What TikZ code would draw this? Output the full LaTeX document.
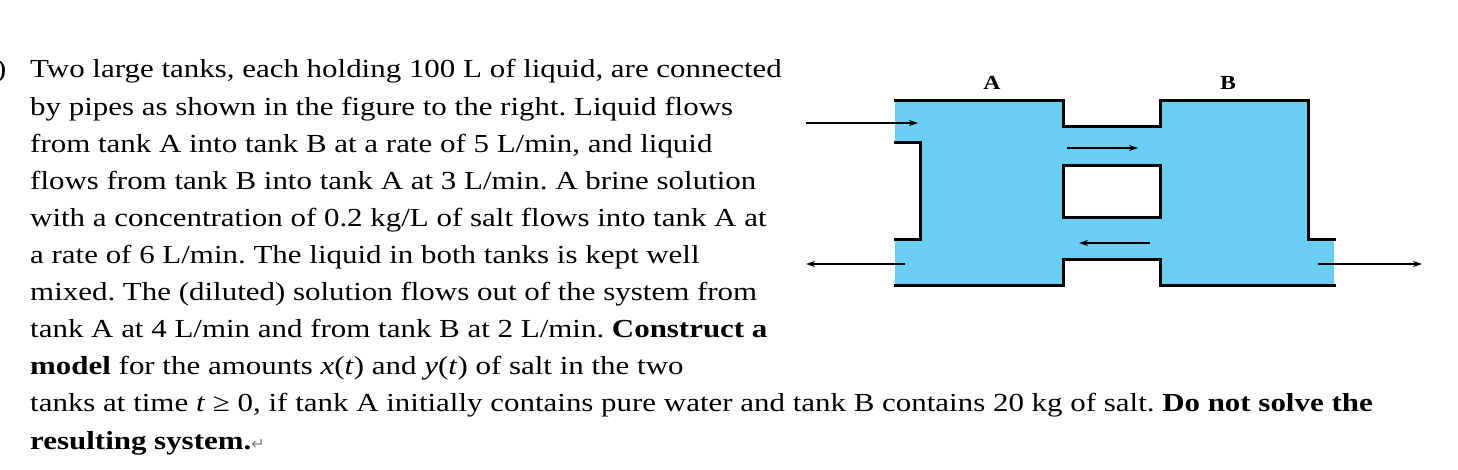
\documentclass[tikz,border=0pt]{standalone}
\usepackage{fontspec}
\usetikzlibrary{arrows.meta}
\setmainfont{Liberation Serif}[FakeStretch=1.19]
\newfontfamily\symf{DejaVu Sans}
\definecolor{water}{HTML}{6BCFF5}
\frenchspacing
\begin{document}
\begin{tikzpicture}[x=1pt,y=-1pt,
  txt/.style={anchor=base west,inner sep=0pt,font=\fontsize{26}{30}\selectfont},
  wall/.style={line width=3pt,line cap=rect},
  flow/.style={line width=1.2pt,-{Stealth[length=9pt,width=6pt]}},
  lab/.style={font=\fontsize{20}{24}\selectfont\bfseries}]
\useasboundingbox (0,0) rectangle (1458,470);
% text
\node[txt] (p) at (-4,78) {)};
\foreach \t [count=\i from 0] in {
 {Two large tanks, each holding 100 L of liquid, are connected},
 {by pipes as shown in the figure to the right. Liquid flows},
 {from tank A into tank B at a rate of 5 L/min, and liquid},
 {flows from tank B into tank A at 3 L/min. A brine solution},
 {with a concentration of 0.2 kg/L of salt flows into tank A at},
 {a rate of 6 L/min. The liquid in both tanks is kept well},
 {mixed. The (diluted) solution flows out of the system from},
 {tank A at 4 L/min and from tank B at 2 L/min. \textbf{Construct a}},
 {\textbf{model} for the amounts \textit{x}(\textit{t}) and \textit{y}(\textit{t}) of salt in the two},
 {tanks at time \textit{t} ≥ 0, if tank A initially contains pure water and tank B contains 20 kg of salt. \textbf{Do not solve the}},
 {\textbf{resulting system.}{\color{gray}\symf\fontsize{16}{18}\selectfont↵}}}
 \node[txt] (l\i) at (30,{78+37.1*\i}) {\t};
% tanks
\fill[water] (895,101) -- (1063,101) -- (1063,127) -- (1160,127) -- (1160,101) -- (1308,101)
  -- (1308,240) -- (1334,240) -- (1334,285) -- (1160,285) -- (1160,260) -- (1063,260) -- (1063,285)
  -- (895,285) -- (895,240) -- (920,240) -- (920,143) -- (895,143) -- cycle;
\fill[white] (1063,166) rectangle (1160,218);
\draw[wall] (895,101) -- (1063,101) -- (1063,127) -- (1160,127) -- (1160,101) -- (1308,101)
  -- (1308,240) -- (1334,240);
\draw[wall] (895,143) -- (920,143) -- (920,240) -- (895,240);
\draw[wall] (895,285) -- (1063,285) -- (1063,260) -- (1160,260) -- (1160,285) -- (1334,285);
\draw[wall] (1063,166) rectangle (1160,218);
\node[lab] (A) at (992,83) {A};
\node[lab] (B) at (1228,83) {B};
\coordinate (i1) at (806,123); \coordinate (i2) at (918,123);
\coordinate (u1) at (1067,148); \coordinate (u2) at (1138,148);
\coordinate (d1) at (1150,243); \coordinate (d2) at (1079,243);
\coordinate (o1) at (905,264); \coordinate (o2) at (806,264);
\coordinate (r1) at (1318,264); \coordinate (r2) at (1422,264);
\draw[flow] (i1) -- (i2);
\draw[flow] (u1) -- (u2);
\draw[flow] (d1) -- (d2);
\draw[flow] (o1) -- (o2);
\draw[flow] (r1) -- (r2);
\end{tikzpicture}
\end{document}
